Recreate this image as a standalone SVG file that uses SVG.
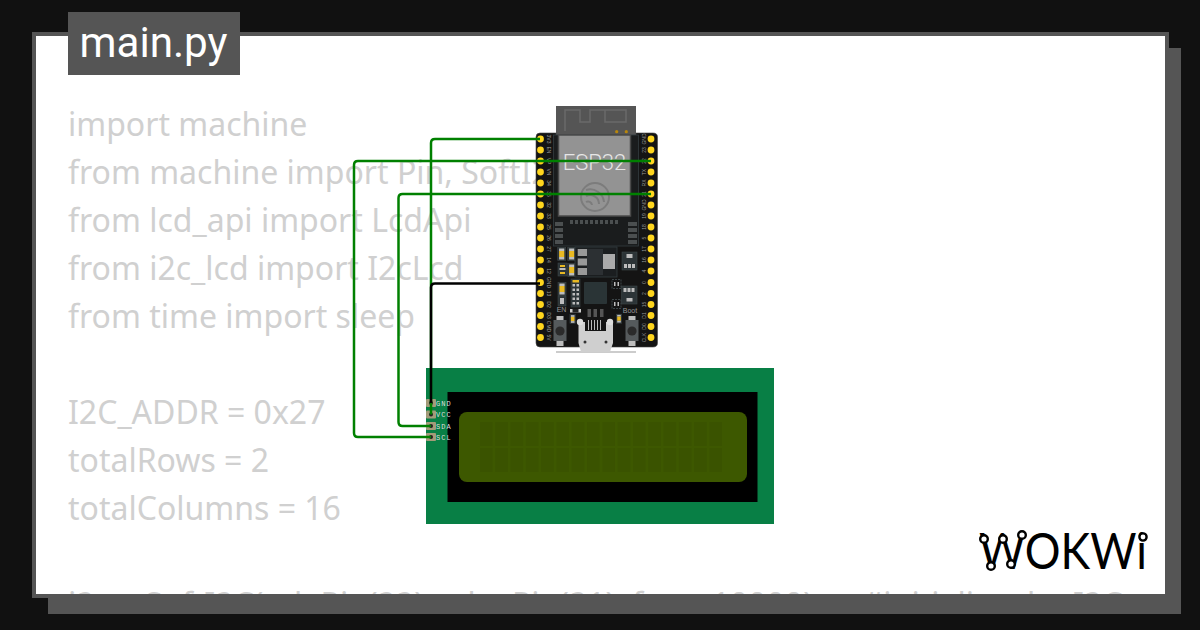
<svg xmlns="http://www.w3.org/2000/svg" xmlns:xlink="http://www.w3.org/1999/xlink" width="1200" height="630" viewBox="0 0 1200 630">
<style>
.code{font-family:"Noto Sans","Open Sans",sans-serif;font-size:32px;fill:#d0d0d0;white-space:pre}
.pl{font-family:"Liberation Sans",sans-serif;font-size:5px;fill:#999;text-anchor:middle}
.lp{font-family:"Liberation Mono",monospace;font-size:7px;fill:#ddd;letter-spacing:1px}
.pin{fill:#ffd61e}
.wire{fill:none;stroke:#008000;stroke-width:2.5}
.smd{fill:#2c3437;stroke:#3d4649;stroke-width:.6}
.gold{fill:#e8b923}
.pale{fill:#bdbdbd}
.pad{fill:#4b4f50}
.cell{fill:#3a5300}
.ring{fill:#fff;stroke:#000;stroke-width:2.4}
</style>
<defs>
<clipPath id="pc"><rect x="36" y="36" width="1129" height="558"/></clipPath>
<rect id="c" class="cell" width="12.5" height="24"/>
<g id="row"><use href="#c" x="0"/><use href="#c" x="15.3"/><use href="#c" x="30.6"/><use href="#c" x="45.9"/><use href="#c" x="61.2"/><use href="#c" x="76.5"/><use href="#c" x="91.8"/><use href="#c" x="107.1"/><use href="#c" x="122.4"/><use href="#c" x="137.7"/><use href="#c" x="153"/><use href="#c" x="168.3"/><use href="#c" x="183.6"/><use href="#c" x="198.9"/><use href="#c" x="214.2"/><use href="#c" x="229.5"/></g>
<g id="res"><rect class="smd" x="-4" y="-6.5" width="8" height="13"/><rect class="pale" x="-2.6" y="-5.5" width="5.2" height="2.5"/><rect class="gold" x="-2.6" y="-3" width="5.2" height="6"/><rect class="pale" x="-2.6" y="3" width="5.2" height="2.5"/></g>
<g id="btn"><rect class="pale" x="-3.5" y="-15" width="7" height="30"/><rect x="-6.5" y="-11" width="13" height="21" fill="#555a5c"/><circle r="4.6" fill="#2b2b2b"/></g>
</defs>
<rect width="1200" height="630" fill="#111"/>
<rect x="48" y="48" width="1133" height="566" fill="#555"/>
<rect x="34" y="34" width="1133" height="562" fill="#fff" stroke="#555" stroke-width="4"/>
<g clip-path="url(#pc)">
<text class="code" x="68" y="136">import machine</text>
<text class="code" x="68" y="184">from machine import Pin, SoftI2C</text>
<text class="code" x="68" y="232">from lcd_api import LcdApi</text>
<text class="code" x="68" y="280">from i2c_lcd import I2cLcd</text>
<text class="code" x="68" y="328">from time import sleep</text>
<text class="code" x="68" y="424">I2C_ADDR = 0x27</text>
<text class="code" x="68" y="472">totalRows = 2</text>
<text class="code" x="68" y="520">totalColumns = 16</text>
<text class="code" x="68" y="616">i2c = SoftI2C(scl=Pin(22), sda=Pin(21), freq=10000)      #initialize the I2C</text>
</g>
<rect x="68" y="12" width="172" height="63" fill="#555"/>
<text x="79.500" y="57" font-family="Roboto,sans-serif" font-size="42.200" fill="#fff">main.py</text>

<g id="esp32">
<rect x="556" y="106" width="80" height="30" fill="#555"/>
<path d="M565 131V110H580V122H590V110H605V122H626V110H605" fill="none" stroke="#6a6a6a" stroke-width="1.5"/>
<circle cx="616.7" cy="131.7" r="1.6" fill="#b8860b"/><circle cx="626.3" cy="131.7" r="1.6" fill="#b8860b"/>
<path d="M540 133H556V136H636V133H653Q657.500 133 657.500 137V343Q657.500 347 653 347H540Q536 347 536 343V137Q536 133 540 133Z" fill="#141414" stroke="#444" stroke-width=".6"/>
<rect x="553.500" y="135" width="85" height="111" fill="#1a1c1d" stroke="#333c40" stroke-width=".8"/>
<rect x="558.500" y="135" width="72" height="81" fill="#9a9a9a" fill-opacity=".95" stroke="#4a4a4a" stroke-width="1.500"/>
<text x="594.500" y="169.500" text-anchor="middle" font-family="Roboto,sans-serif" font-weight="300" font-size="22" fill="#e6e6e6">ESP32</text>
<g fill="none" stroke="#7c7c7c" stroke-width="2"><circle cx="595" cy="197" r="14"/><path d="M586 190A14 14 0 0 1 604 202M586 196A9 9 0 0 1 599 204M586 202A4 4 0 0 1 592 205"/></g>
<g class="pad"><rect x="570" y="220" width="3" height="4"/><rect x="575" y="220" width="3" height="4"/><rect x="580" y="220" width="3" height="4"/><rect x="585" y="220" width="3" height="4"/><rect x="590" y="220" width="3" height="4"/><rect x="595" y="220" width="3" height="4"/><rect x="600" y="220" width="3" height="4"/><rect x="605" y="220" width="3" height="4"/><rect x="610" y="220" width="3" height="4"/><rect x="615" y="220" width="3" height="4"/>
<rect x="555" y="222" width="8" height="4"/><rect x="555" y="228" width="8" height="4"/><rect x="555" y="234" width="8" height="4"/><rect x="555" y="240" width="8" height="4"/><rect x="628" y="222" width="9" height="4"/><rect x="628" y="228" width="9" height="4"/><rect x="628" y="234" width="9" height="4"/><rect x="628" y="240" width="9" height="4"/></g>
<use href="#res" x="561.700" y="254"/><use href="#res" x="571.700" y="254"/>
<rect class="smd" x="558" y="263" width="9" height="13"/><rect class="gold" x="560" y="265" width="5" height="2"/><rect class="pale" x="559.500" y="268" width="6" height="2"/><rect class="gold" x="560" y="272" width="5" height="2"/>
<use href="#res" x="571.700" y="270"/>
<rect x="575" y="247" width="42" height="30" fill="#1b1e20" stroke="#333c40" stroke-width=".8"/><rect x="587" y="249" width="16" height="26" fill="#2c3033"/>
<rect x="577.700" y="249" width="9.300" height="7" fill="#999"/><rect x="577.700" y="258.500" width="9.300" height="7" fill="#999"/><rect x="577.700" y="268" width="9.300" height="7" fill="#999"/>
<rect x="603" y="254" width="12" height="15" fill="#aaa"/>
<rect class="smd" x="622" y="252" width="15" height="18"/><rect class="pale" x="626.500" y="254" width="6" height="4"/><rect class="pale" x="624" y="264" width="3" height="4"/><rect class="pale" x="628" y="264" width="3" height="4"/><rect class="pale" x="632" y="264" width="3" height="4"/>
<rect x="584" y="282" width="23" height="22" rx="1" fill="#2a3436"/>
<use href="#res" x="562" y="289"/>
<rect class="smd" x="558" y="296" width="8" height="10"/><rect class="pale" x="560" y="298" width="4" height="6"/>
<rect class="smd" x="571" y="279" width="9" height="28"/>
<g class="pale"><rect x="572.500" y="284" width="2.500" height="2.500"/><rect x="576.500" y="284" width="2.500" height="2.500"/><rect x="572.500" y="288.500" width="2.500" height="2.500"/><rect x="576.500" y="288.500" width="2.500" height="2.500"/><rect x="572.500" y="293" width="2.500" height="2.500"/><rect x="576.500" y="293" width="2.500" height="2.500"/><rect x="572.500" y="297.500" width="2.500" height="2.500"/><rect x="576.500" y="297.500" width="2.500" height="2.500"/><rect x="572.500" y="302" width="2.500" height="2.500"/><rect x="576.500" y="302" width="2.500" height="2.500"/></g>
<rect class="gold" x="572.500" y="280" width="6.500" height="2.500"/>
<g fill="none" stroke="#3d4649" stroke-dasharray="2 1"><rect x="612" y="279.500" width="9" height="9"/><rect x="612" y="299.500" width="9" height="9"/></g>
<rect class="pale" x="614" y="282" width="1.500" height="4"/><rect class="pale" x="617.500" y="282" width="1.500" height="4"/><rect class="pale" x="614" y="302" width="1.500" height="4"/><rect class="pale" x="617.500" y="302" width="1.500" height="4"/>
<rect class="smd" x="621.500" y="286" width="15.500" height="18"/><rect class="pale" x="623.500" y="288" width="3" height="4"/><rect class="pale" x="627.500" y="288" width="3" height="4"/><rect class="pale" x="631.500" y="288" width="3" height="4"/><rect class="pale" x="626.500" y="298" width="6" height="3.500"/>
<text x="561.500" y="312" text-anchor="middle" font-family="Liberation Sans,sans-serif" font-size="7" fill="#999">EN</text>
<text x="630" y="312.500" text-anchor="middle" font-family="Liberation Sans,sans-serif" font-size="7" fill="#999">Boot</text>
<rect x="570" y="309" width="11" height="3.500" fill="#ccc"/><rect x="572.500" y="309" width="6" height="3.500" fill="#222"/>
<g transform="translate(572.700 319) scale(.7)"><use href="#res"/></g><g transform="translate(619 318.700) scale(.7)"><use href="#res"/></g>
<rect x="587.500" y="309" width="3.500" height="8" fill="#555"/><rect x="593.500" y="309" width="3.500" height="8" fill="#555"/><rect x="600" y="309" width="3.500" height="8" fill="#555"/>
<use href="#btn" x="560" y="331"/><use href="#btn" x="632" y="331"/>
<rect x="556" y="351" width="80" height="2" fill="#ccc"/>
<path d="M578.500 322H613V343L610 352H581L578.500 343Z" fill="#cfcfcf"/>
<circle cx="580" cy="322" r="3.200" fill="#ddd"/><circle cx="610" cy="322" r="3.200" fill="#ddd"/>
<rect x="585" y="319" width="21" height="12" fill="#141414"/>
<g fill="#bbb"><rect x="588" y="320" width="1" height="10"/><rect x="591" y="320" width="1" height="10"/><rect x="594" y="320" width="1" height="10"/><rect x="597" y="320" width="1" height="10"/><rect x="600" y="320" width="1" height="10"/></g>
<circle cx="585" cy="342" r="1.500" fill="#333"/><circle cx="606" cy="342" r="1.500" fill="#333"/>
<g class="pin"><circle cx="540.500" cy="139" r="3.400"/><circle cx="540.500" cy="150" r="3.400"/><circle cx="540.500" cy="161" r="3.400"/><circle cx="540.500" cy="172" r="3.400"/><circle cx="540.500" cy="183" r="3.400"/><circle cx="540.500" cy="194" r="3.400"/><circle cx="540.500" cy="205" r="3.400"/><circle cx="540.500" cy="216" r="3.400"/><circle cx="540.500" cy="227" r="3.400"/><circle cx="540.500" cy="238" r="3.400"/><circle cx="540.500" cy="249" r="3.400"/><circle cx="540.500" cy="260" r="3.400"/><circle cx="540.500" cy="271" r="3.400"/><circle cx="540.500" cy="282.500" r="3.400"/><circle cx="540.500" cy="293.500" r="3.400"/><circle cx="540.500" cy="304.500" r="3.400"/><circle cx="540.500" cy="315.500" r="3.400"/><circle cx="540.500" cy="326.500" r="3.400"/><circle cx="540.500" cy="337.500" r="3.400"/>
<circle cx="651" cy="139" r="3.400"/><circle cx="651" cy="150" r="3.400"/><circle cx="651" cy="161" r="3.400"/><circle cx="651" cy="172" r="3.400"/><circle cx="651" cy="183" r="3.400"/><circle cx="651" cy="194" r="3.400"/><circle cx="651" cy="205" r="3.400"/><circle cx="651" cy="216" r="3.400"/><circle cx="651" cy="227" r="3.400"/><circle cx="651" cy="238" r="3.400"/><circle cx="651" cy="249" r="3.400"/><circle cx="651" cy="260" r="3.400"/><circle cx="651" cy="271" r="3.400"/><circle cx="651" cy="282.500" r="3.400"/><circle cx="651" cy="293.500" r="3.400"/><circle cx="651" cy="304.500" r="3.400"/><circle cx="651" cy="315.500" r="3.400"/><circle cx="651" cy="326.500" r="3.400"/><circle cx="651" cy="337.500" r="3.400"/></g>
<g class="pl">
<text transform="translate(546.500 139) rotate(90)">3V3</text><text transform="translate(546.500 150) rotate(90)">EN</text><text transform="translate(546.500 161) rotate(90)">VP</text><text transform="translate(546.500 172) rotate(90)">VN</text><text transform="translate(546.500 183) rotate(90)">34</text><text transform="translate(546.500 194) rotate(90)">35</text><text transform="translate(546.500 205) rotate(90)">32</text><text transform="translate(546.500 216) rotate(90)">33</text><text transform="translate(546.500 227) rotate(90)">25</text><text transform="translate(546.500 238) rotate(90)">26</text><text transform="translate(546.500 249) rotate(90)">27</text><text transform="translate(546.500 260) rotate(90)">14</text><text transform="translate(546.500 271) rotate(90)">12</text><text transform="translate(546.500 282.500) rotate(90)">GND</text><text transform="translate(546.500 293.500) rotate(90)">13</text><text transform="translate(546.500 304.500) rotate(90)">D2</text><text transform="translate(546.500 315.500) rotate(90)">D3</text><text transform="translate(546.500 326.500) rotate(90)">CMD</text><text transform="translate(546.500 337.500) rotate(90)">5V</text>
<text transform="translate(645.500 139) rotate(-90)">GND</text><text transform="translate(645.500 150) rotate(-90)">23</text><text transform="translate(645.500 161) rotate(-90)">22</text><text transform="translate(645.500 172) rotate(-90)">TX</text><text transform="translate(645.500 183) rotate(-90)">RX</text><text transform="translate(645.500 194) rotate(-90)">21</text><text transform="translate(645.500 205) rotate(-90)">GND</text><text transform="translate(645.500 216) rotate(-90)">19</text><text transform="translate(645.500 227) rotate(-90)">18</text><text transform="translate(645.500 238) rotate(-90)">5</text><text transform="translate(645.500 249) rotate(-90)">17</text><text transform="translate(645.500 260) rotate(-90)">16</text><text transform="translate(645.500 271) rotate(-90)">4</text><text transform="translate(645.500 282.500) rotate(-90)">0</text><text transform="translate(645.500 293.500) rotate(-90)">2</text><text transform="translate(645.500 304.500) rotate(-90)">15</text><text transform="translate(645.500 315.500) rotate(-90)">D1</text><text transform="translate(645.500 326.500) rotate(-90)">D0</text><text transform="translate(645.500 337.500) rotate(-90)">CLK</text>
</g>
</g>

<g id="lcd">
<rect x="426" y="368" width="348" height="156" fill="#087f45"/>
<rect x="447.500" y="392" width="310" height="110" fill="#000"/>
<rect x="459" y="412" width="288" height="70" rx="8" fill="#3d5800"/>
<use href="#row" x="480" y="422"/><use href="#row" x="480" y="448"/>
<g fill="#a39b78"><rect x="426" y="399" width="10" height="8" rx="1"/><rect x="426" y="410.500" width="10" height="8" rx="1"/><rect x="426" y="422" width="10" height="8" rx="1"/><rect x="426" y="433" width="10" height="8" rx="1"/></g>
<g fill="#222"><circle cx="431" cy="403" r="2"/><circle cx="431" cy="414.500" r="2"/><circle cx="431" cy="426" r="2"/><circle cx="431" cy="437" r="2"/></g>
<text class="lp" x="436" y="405.500">GND</text><text class="lp" x="436" y="417">VCC</text><text class="lp" x="436" y="428.500">SDA</text><text class="lp" x="436" y="439.500">SCL</text>
</g>

<g id="connectors">
<path class="wire" d="M540 139H435Q431 139 431 143V414.500"/>
<path class="wire" d="M651 161H358Q354 161 354 165V433Q354 437 358 437H431"/>
<path class="wire" d="M651 194H402.500Q398.500 194 398.500 198V422Q398.500 426 402.500 426H431"/>
<path d="M540 283.500H435Q431 283.500 431 287.500V403" fill="none" stroke="#000" stroke-width="2.500"/>
</g>

<g id="logo">
<text x="979" y="569" font-family="Lato,sans-serif" font-size="50" fill="#000" textLength="168" lengthAdjust="spacingAndGlyphs">WOKWi</text>
<circle class="ring" cx="984" cy="539" r="3.800"/><circle class="ring" cx="1003" cy="539" r="3.800"/><circle class="ring" cx="1022" cy="535" r="3.800"/><circle class="ring" cx="991" cy="566" r="3.800"/><circle class="ring" cx="1011" cy="564" r="3.800"/><circle class="ring" cx="1143" cy="537" r="3.600"/>
</g>
</svg>
